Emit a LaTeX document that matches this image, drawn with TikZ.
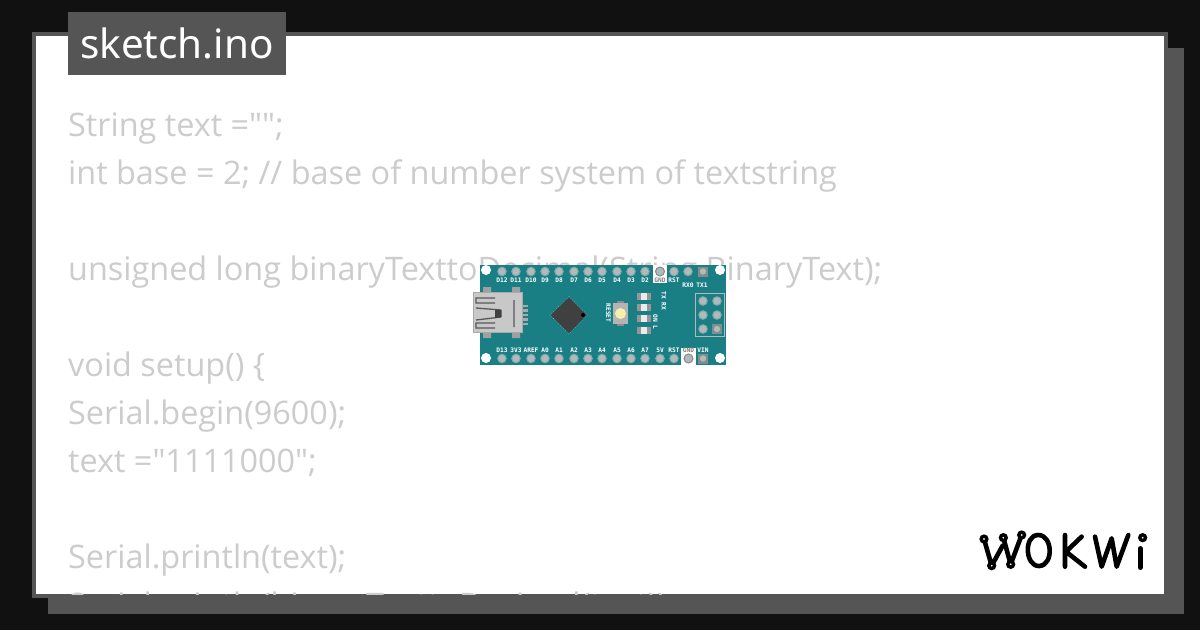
\documentclass[tikz,border=0pt]{standalone}
\usepackage{fontspec}
\setmainfont{Open Sans}[Ligatures=TeXOff]
\newfontfamily\tagfont{Noto Sans}
\newfontfamily\pinfont{DejaVu Sans Mono}
\usepackage{tikz}
\usetikzlibrary{
  positioning
}
\definecolor{pageback}{HTML}{111111}
\definecolor{frameback}{HTML}{555555}
\definecolor{codegray}{HTML}{CCCCCC}
\definecolor{boardteal}{HTML}{1A7F85}
\definecolor{pingray}{HTML}{B0BABA}
\definecolor{usbgray}{HTML}{C8C8C8}

\begin{document}
\begin{tikzpicture}[
      x=1pt,y=-1pt,
      codeline/.style={
         anchor=base west,
         inner sep=0pt,
         text=codegray,
         font=\fontsize{32.4}{32.4}\selectfont
      },
      pinlabel/.style={
         inner sep=0pt,
         text=#1,
         font=\pinfont\bfseries\fontsize{6.2}{6.2}\selectfont
      },
      pinlabel/.default=white,
      pinhole/.style={
         circle,
         fill=pingray,
         draw=pingray!70!boardteal,
         line width=1pt,
         inner sep=0pt,
         minimum size=8.5pt
      },
      logoline/.style={
         line width=4.6pt,
         line cap=round,
         line join=round
      },
      logodot/.style={
         draw=black,
         fill=white,
         line width=3.4pt
      },
    ]
    % background and frame
    \fill[pageback] (0,0) rectangle (1200,630);
    \fill[frameback] (48,48) rectangle (1184,614);
    \fill[frameback] (32,32) rectangle (1168,598);
    \fill[white] (36,36) rectangle (1164,594);
    % code
    \begin{scope}
      \clip (36,36) rectangle (1164,594);
      \node (line1) [codeline] at (68,136) {String text ="";};
      \node (line2) [codeline] at (68,184) {int base = 2; // base of number system of textstring};
      \node (line3) [codeline] at (68,280) {unsigned long binaryTexttoDecimal(String BinaryText);};
      \node (line4) [codeline] at (68,376) {void setup() \{};
      \node (line5) [codeline] at (68,424) {Serial.begin(9600);};
      \node (line6) [codeline] at (68,472) {text ="1111000";};
      \node (line7) [codeline] at (68,568) {Serial.println(text);};
      \node (line8) [codeline] at (68,616) {Serial.println(binaryTexttoDecimal(text));};
    \end{scope}
    % tag
    \fill[frameback] (68,12) rectangle (286,75);
    \node (tag) [anchor=base west, inner sep=0pt, text=white, font=\tagfont\fontsize{40.4}{40.4}\selectfont] at (80,58) {sketch.ino};
    % board
    \fill[boardteal] (480,265) rectangle (726,365);
    \fill[white] (653,265) rectangle (667,283);
    \fill[white] (681,348) rectangle (696,365);
    \foreach \pos/\toplabel/\botlabel [count=\i from 0] in {
        502/D12/D13,516/D11/3V3,531/D10/AREF,545/D9/A0,559/D8/A1,574/D7/A2,588/D6/A3,
        602/D5/A4,617/D4/A5,631/D3/A6,645/D2/A7} {
      \node (top\i) [pinhole] at (\pos,271.5) {};
      \node (bot\i) [pinhole] at (\pos,358.5) {};
      \node (toplab\i) [pinlabel] at (\pos,280) {\toplabel};
      \node (botlab\i) [pinlabel] at (\pos,350) {\botlabel};
    }
    \node (top12) [pinhole] at (674,271.5) {};
    \node (top13) [pinhole] at (688,271.5) {};
    \node (bot11) [pinhole] at (660,358.5) {};
    \node (bot12) [pinhole] at (674,358.5) {};
    \node (toplab11) [pinlabel=gray] at (660,280) {GND};
    \node (toplab12) [pinlabel] at (674,280) {RST};
    \node (toplab13) [pinlabel] at (688,285) {RX0};
    \node (toplab14) [pinlabel] at (702,285) {TX1};
    \node (botlab11) [pinlabel] at (660,350) {5V};
    \node (botlab12) [pinlabel] at (674,350) {RST};
    \node (botlab13) [pinlabel=gray] at (688.5,350) {GND};
    \node (botlab14) [pinlabel] at (703,350) {VIN};
    % corner holes
    \foreach \cx/\cy in {486/270,720/270,486/358,720/358}
      \fill[white] (\cx,\cy) circle (5);
    % usb
    \fill[usbgray!80!black] (483,287) rectangle (491,292) (512,287) rectangle (520,292)
       (483,332) rectangle (491,338) (512,332) rectangle (520,338);
    \foreach \py in {306,310.5,315,319.5,324}
      \fill[usbgray!85!black] (522,\py-1.2) rectangle (528,\py+1.2);
    \fill[usbgray,draw=usbgray!85!black,line width=.6pt] (473.5,292) rectangle (522.5,332);
    \draw[black!65,line width=1.3pt] (495,298) -- (476,298) -- (476,303) -- (495,303)
       (495,328) -- (476,328) -- (476,323) -- (495,323)
       (476,308) -- (501,310) (476,320) -- (501,317) (514,300) -- (514,327);
    \fill[black!75] (495,309.5) -- (501.5,310) -- (501.5,317) -- (495,318) -- cycle;
    % chip
    \fill[black!75,rounded corners=.8pt] (569,297.3) -- (586.7,315) -- (569,333.3) -- (550.7,315) -- cycle;
    \draw[pingray!70,dotted,line width=.4pt] (569,296.5) -- (587.5,315) -- (569,334) -- (550,315) -- cycle;
    \fill[black] (583,315) circle (2);
    % reset
    \fill[usbgray!70!black] (617,301) rectangle (624,326);
    \fill[usbgray!90!black] (613,303) rectangle (628,324);
    \fill[yellow!30!white!95!black] (620.5,313.5) circle (5.5);
    \node (resetlab) [pinlabel, rotate=-90] at (608.5,313) {RESET};
    % leds
    \foreach \ly in {296,307,318,330} {
      \fill[usbgray!75!black] (637,\ly-3.5) rectangle (651,\ly+3.5);
      \fill[white!92!black] (641,\ly-3.5) rectangle (647,\ly+3.5);
    }
    \node (txrx) [pinlabel, rotate=-90] at (664,301) {TX RX};
    \node (onl) [pinlabel, rotate=-90] at (655.5,322) {ON L};
    % icsp
    \draw[pingray,line width=.8pt] (695,293) rectangle (724.5,336);
    \foreach \ix/\iy [count=\i] in {703/301,717/301,703/315,717/315,703/329}
      \node (icsp\i) [pinhole] at (\ix,\iy) {};
    % square pins and ground rings
    \foreach \sx/\sy in {703/271.5,703/358.5,717/329} {
      \fill[pingray!75!black] (\sx-5,\sy-5) rectangle (\sx+5,\sy+5);
      \fill[pingray] (\sx,\sy) circle (3.2);
    }
    \foreach \rx/\ry in {660/271.5,688.5/358.5}
      \draw[frameback!70,fill=pingray,line width=1pt] (\rx,\ry) circle (4.5);
    % logo
    \begin{scope}[shift={(960,515)},x=0.3333pt,y=-0.3333pt]
      \draw[logoline] (72,72) -- (95,152) -- (128,92);
      \draw[logoline] (130,68) -- (152,148) -- (185,60);
      \draw[logoline] (235,60) .. controls (190,60) and (195,155) .. (238,153)
          .. controls (282,150) and (278,60) .. (235,60);
      \draw[logoline] (315,60) -- (315,155) (365,65) -- (318,110) -- (375,155);
      \draw[logoline] (405,65) -- (425,155) -- (455,70) -- (470,155) -- (505,60);
      \draw[logoline] (541,100) -- (541,158);
      \foreach \dx/\dy in {72/72,130/68,185/60,95/152,152/148,548/68}
        \draw[logodot] (\dx,\dy) circle (8.5);
    \end{scope}
\end{tikzpicture}
\end{document}
